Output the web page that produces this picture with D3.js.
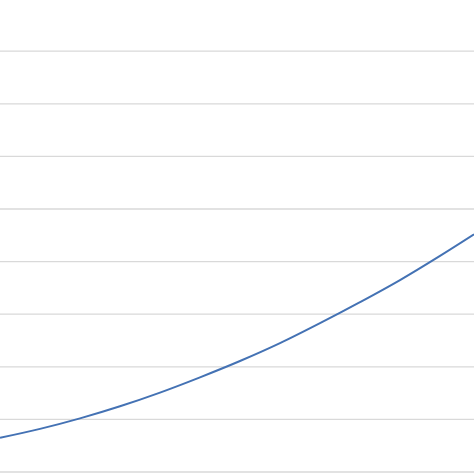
<!DOCTYPE html>
<html><head><meta charset="utf-8">
<script src="https://cdn.jsdelivr.net/npm/d3@7"></script>
<style>html,body{margin:0;padding:0;background:#fff;overflow:hidden}</style>
</head><body>
<svg id="c" width="474" height="474"></svg>
<script>
const xValues = [0,40,80,120,160,200,240,280,320,360,400,440,474];
const yValues = [0.65,0.82,1.02,1.25,1.51,1.80,2.11,2.45,2.83,3.23,3.65,4.11,4.52];
const gridValues = [0,1,2,3,4,5,6,7,8];

const svg = d3.select("#c");
const x = d3.scaleLinear().domain([0,474]).range([0,474]);
const y = d3.scaleLinear().domain([0,9]).range([472,-1.4]);

svg.append("g").selectAll("line").data(gridValues).join("line")
  .attr("x1",0).attr("x2",474)
  .attr("y1",d=>y(d)).attr("y2",d=>y(d))
  .attr("stroke","#d9d9d9").attr("stroke-width",1.3);

const pts = xValues.map((v,i)=>[v,yValues[i]]);
svg.append("path").datum(pts)
  .attr("fill","none").attr("stroke","#4472b4").attr("stroke-width",2)
  .attr("d", d3.line().x(d=>x(d[0])).y(d=>y(d[1])).curve(d3.curveMonotoneX));
</script>
</body></html>
